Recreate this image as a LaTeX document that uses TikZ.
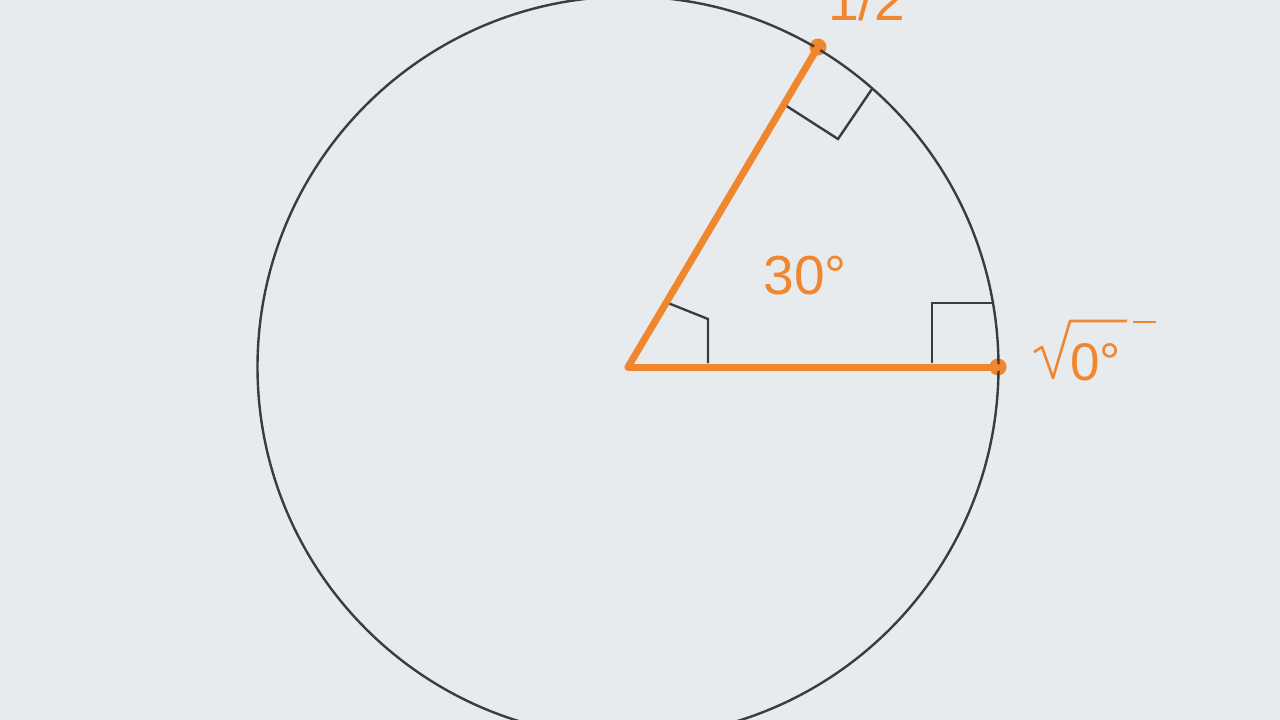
\documentclass[tikz,border=0pt]{standalone}
\usepackage{fontspec}
\setmainfont{Liberation Sans}
\definecolor{bg}{HTML}{E8EBEE}
\definecolor{org}{HTML}{F0862E}
\definecolor{ink}{HTML}{3A3C40}
\begin{document}
\begin{tikzpicture}[x=1pt,y=-1pt,
  radius line/.style={org,line width=7pt,line cap=round},
  mark line/.style={ink,line width=2.4pt,line join=miter},
  dot/.style={circle,fill=org,inner sep=0pt,minimum size=17pt},
  lbl/.style={text=org,inner sep=0pt}]
\fill[bg] (0,0) rectangle (1280,720);
\useasboundingbox (0,0) rectangle (1280,720);
\coordinate (O) at (628,367);
\node[dot] (A) at (998,367) {};
\node[dot] (B) at (818,47) {};
\draw[ink,line width=2.4pt] (O) circle[radius=370.5];
% right-angle marks
\draw[mark line] (668,303) -- (708,319) -- (708,363);
\draw[mark line] (932,363) -- (932,303) -- (994,303);
\draw[mark line] (785,105) -- (838,139) -- (872,89);
% radii
\draw[radius line] (O) -- (A.center);
\draw[radius line] (O) -- (B.center);
% labels
\node[lbl,font=\fontsize{55}{60}\selectfont] (ang) at (805,276) {30°};
\node[lbl,font=\fontsize{53}{58}\selectfont,anchor=base west] (zero) at (1070,380) {0°};
\draw[org,line width=2.6pt,line join=round] (1034,352) -- (1042,347) -- (1053,378) -- (1070,321) -- (1127,321);
\draw[org,line width=2.6pt] (1133,322) -- (1156,322);
\node[lbl,font=\fontsize{55}{60}\selectfont,anchor=base west] (top) at (828,20) {1/2};
\end{tikzpicture}
\end{document}
